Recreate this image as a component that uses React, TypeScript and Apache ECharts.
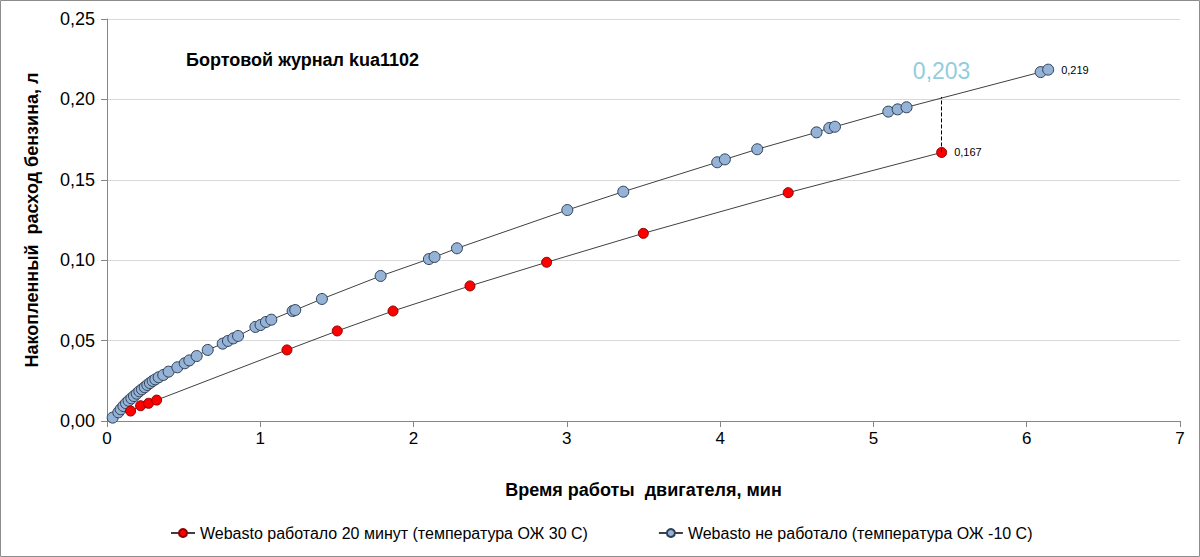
import React, { useEffect, useRef } from "react";
import * as echarts from "echarts";

const redX = [0.154, 0.219, 0.271, 0.324, 1.174, 1.502, 1.866, 2.368, 2.868, 3.499, 4.444, 5.445];
const redY = [0.0062, 0.0095, 0.011, 0.013, 0.0442, 0.056, 0.0684, 0.084, 0.0987, 0.1167, 0.142, 0.167];

const blueX = [0.037, 0.074, 0.089, 0.107, 0.124, 0.141, 0.159, 0.176, 0.194, 0.211, 0.228, 0.246, 0.263, 0.28, 0.298, 0.315, 0.337, 0.367, 0.402, 0.459, 0.507, 0.537, 0.585, 0.657, 0.755, 0.789, 0.824, 0.855, 0.968, 1.002, 1.037, 1.072, 1.211, 1.228, 1.402, 1.785, 2.1, 2.137, 2.283, 3.003, 3.368, 3.981, 4.031, 4.242, 4.629, 4.712, 4.749, 5.097, 5.158, 5.216, 6.091, 6.14];
const blueY = [0.0021, 0.0054, 0.0073, 0.0093, 0.011, 0.0126, 0.0141, 0.0155, 0.017, 0.0185, 0.0197, 0.021, 0.0224, 0.0236, 0.0249, 0.0259, 0.0272, 0.0286, 0.0307, 0.0334, 0.0359, 0.0377, 0.0404, 0.0442, 0.0481, 0.0498, 0.0514, 0.0529, 0.0585, 0.0597, 0.0616, 0.063, 0.0684, 0.069, 0.0759, 0.0902, 0.1007, 0.102, 0.1074, 0.1312, 0.1426, 0.1609, 0.1627, 0.169, 0.1795, 0.1822, 0.183, 0.1924, 0.1938, 0.1951, 0.217, 0.2185];

const redName = "Webasto работало 20 минут (температура ОЖ 30 С)";
const blueName = "Webasto не работало (температура ОЖ -10 С)";
const chartTitle = "Бортовой журнал kua1102";
const xAxisName = "Время работы  двигателя, мин";
const yAxisName = "Накопленный  расход бензина, л";
const redEndLabel = "0,167";
const blueEndLabel = "0,219";
const gapLabel = "0,203";
const gapTop = 0.2015;

const FONT = "'Liberation Sans', Arial, sans-serif";

function buildData(xs: number[], ys: number[], lastLabel: string) {
  return xs.map((x, i) => {
    const item: any = { value: [x, ys[i]] };
    if (i === xs.length - 1) {
      item.label = {
        show: true,
        position: "right",
        distance: 7,
        formatter: lastLabel,
        fontSize: 11,
        color: "#000",
        fontFamily: FONT,
      };
    }
    return item;
  });
}

export default function App() {
  const ref = useRef<HTMLDivElement>(null);
  useEffect(() => {
    const chart = echarts.init(ref.current!, null, { renderer: "svg" });
    const comma = (v: number) => v.toFixed(2).replace(".", ",");
    chart.setOption({
      animation: false,
      backgroundColor: "#fff",
      textStyle: { fontFamily: FONT },
      title: {
        text: chartTitle,
        left: 181,
        top: 46,
        textStyle: { fontSize: 18, fontWeight: "bold", color: "#000", fontFamily: FONT },
      },
      grid: { left: 107, right: 20, top: 19, bottom: 136 },
      xAxis: {
        type: "value",
        min: 0,
        max: 7,
        interval: 1,
        name: xAxisName,
        nameLocation: "middle",
        nameGap: 60,
        nameTextStyle: { fontSize: 18, fontWeight: "bold", color: "#000" },
        axisLine: { show: true, lineStyle: { color: "#868686" } },
        axisTick: { show: true, inside: false, length: 6, lineStyle: { color: "#868686" } },
        axisLabel: { fontSize: 17, color: "#000", margin: 9 },
        splitLine: { show: false },
      },
      yAxis: {
        type: "value",
        min: 0,
        max: 0.25,
        interval: 0.05,
        name: yAxisName,
        nameLocation: "middle",
        nameGap: 66,
        nameTextStyle: { fontSize: 18, fontWeight: "bold", color: "#000" },
        axisLine: { show: true, lineStyle: { color: "#868686" } },
        axisTick: { show: true, inside: false, length: 6, lineStyle: { color: "#868686" } },
        axisLabel: { fontSize: 18, color: "#000", margin: 12, formatter: comma },
        splitLine: { show: true, lineStyle: { color: "#d9d9d9" } },
      },
      legend: {
        bottom: 11,
        left: 165,
        itemGap: 70,
        itemWidth: 24,
        itemHeight: 10,
        textStyle: { fontSize: 16, color: "#000" },
        data: [redName, blueName],
      },
      series: [
        {
          name: redName,
          type: "line",
          data: buildData(redX, redY, redEndLabel),
          symbol: "circle",
          symbolSize: 10,
          lineStyle: { color: "#404040", width: 1 },
          itemStyle: { color: "#ff0000", borderColor: "#8b0000", borderWidth: 1 },
          z: 3,
          markLine: {
            silent: true,
            symbol: "none",
            lineStyle: { type: "dashed", color: "#000", width: 1 },
            label: {
              show: true,
              position: "end",
              formatter: gapLabel,
              fontSize: 23,
              color: "#92cddc",
              distance: 14,
            },
            data: [[{ coord: [redX[redX.length - 1], redY[redY.length - 1]] }, { coord: [redX[redX.length - 1], gapTop] }]],
          },
        },
        {
          name: blueName,
          type: "line",
          data: buildData(blueX, blueY, blueEndLabel),
          symbol: "circle",
          symbolSize: 11,
          lineStyle: { color: "#404040", width: 1 },
          itemStyle: { color: "#95b3d7", borderColor: "#2f3f55", borderWidth: 1 },
          z: 2,
        },
      ],
      graphic: [
        {
          type: "rect",
          shape: { x: 0.5, y: 0.5, width: 1199, height: 556 },
          style: { fill: "none", stroke: "#8c8c8c", lineWidth: 1 },
          silent: true,
        },
      ],
    });
    return () => chart.dispose();
  }, []);
  return <div ref={ref} style={{ position: "fixed", left: 0, top: 0, width: 1200, height: 557 }} />;
}
